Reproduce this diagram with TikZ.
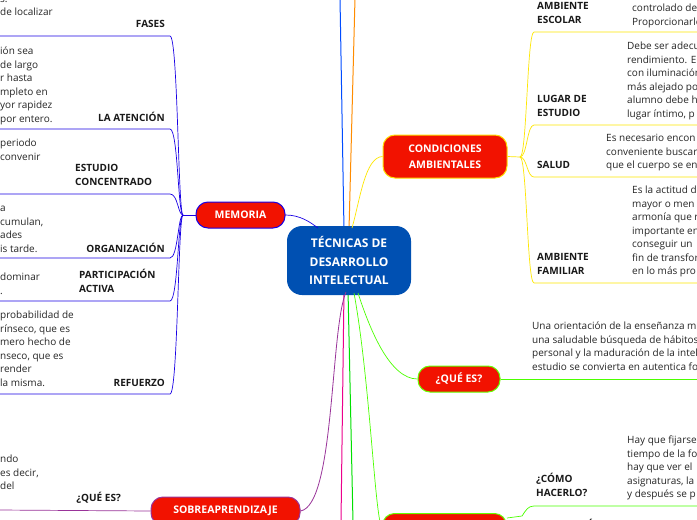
\documentclass[tikz,border=0pt]{standalone}
\usepackage{fontspec}
\setmainfont{Open Sans}
\begin{document}
\begin{tikzpicture}[x=1pt,y=-1pt,
  tx/.style={anchor=mid west,inner sep=0,font=\fontsize{10}{12}\selectfont,text=black!85},
  lb/.style={anchor=mid west,inner sep=0,font=\bfseries\fontsize{10}{12}\selectfont,text=black!90},
  lbr/.style={anchor=mid east,inner sep=0,font=\bfseries\fontsize{10}{12}\selectfont,text=black!90},
  topic/.style={fill=red!85!orange!95!black,rounded corners=12pt,text=white,font=\bfseries\fontsize{10.5}{15.5}\selectfont,align=center,line width=1pt},
  bl/.style={draw=blue!80!violet,line width=0.7pt},
  yl/.style={draw=yellow!90!orange,line width=0.7pt},
  lg/.style={draw=green!70!yellow,line width=0.7pt}]
\useasboundingbox (0,0) rectangle (697,520);
\fill[white] (0,0) rectangle (697,520);
\newcommand{\txl}[4][tx]{\foreach \t [count=\i from 0] in {#4} {\node[#1] at (#2,{#3+13.5*\i}) {\t};}}

% center trunk lines
\draw[blue!70!cyan,line width=1pt] (344,230) -- (340,-2);
\draw[orange!90!yellow,line width=1pt] (349,230) -- (355,-2);
\draw[magenta,line width=1pt] (344,290) -- (341,522);
\draw[green!80!black!60!green,line width=1pt] (348,290) -- (353,522);

% center node
\node[fill=blue!55!cyan!70!black,rounded corners=15pt,minimum width=124pt,minimum height=69pt,text=white,font=\bfseries\fontsize{12}{18.5}\selectfont,align=center,inner sep=2pt] (c) at (349,260.5) {TÉCNICAS DE\\DESARROLLO\\INTELECTUAL};

% MEMORIA
\node[topic,draw=blue!80!violet,minimum width=89pt,minimum height=26pt,inner sep=0] (mem) at (240.5,215) {MEMORIA};
\draw[bl] (mem.east) .. controls (300,215) and (310,222) .. (318,228);
\coordinate (mj) at (183,215);
\draw[bl] (mem.west) -- (mj);
\foreach \y in {36,129,194,258,301,394}{
  \draw[bl] (mj) .. controls (178,215) and (178,\y) .. (170,\y) -- (-2,\y);}
\node[tx] at (0,0) {s.};
\txl{0}{13}{de localizar}
\node[lbr] at (165,25) {FASES};
\txl{0}{52}{ión sea,de largo,r hasta,mpleto en,yor rapidez,por entero.}
\node[lbr] at (165,119) {LA ATENCIÓN};
\txl{0}{144}{periodo,convenir}
\txl[lb]{75}{169}{ESTUDIO,CONCENTRADO}
\txl{0}{209}{a,{cumulan,},ades,is tarde.}
\node[lbr] at (165,250) {ORGANIZACIÓN};
\txl{0}{278}{dominar,.}
\txl[lb]{79}{276}{PARTICIPACIÓN,ACTIVA}
\txl{0}{316}{probabilidad de,{rínseco, que es},mero hecho de,{nseco, que es},render,la misma.}
\node[lbr] at (165,384) {REFUERZO};

% SOBREAPRENDIZAJE
\node[topic,draw=violet!80,minimum width=149pt,minimum height=28pt,inner sep=0] (sob) at (225.5,511) {SOBREAPRENDIZAJE};
\draw[draw=violet!80,line width=0.8pt] (sob.east) .. controls (335,505) and (330,330) .. (346,292);
\draw[draw=violet!80,line width=0.7pt] (sob.west) -- (-2,510);
\txl{0}{460}{ndo,{es decir,},del}
\node[lbr] at (121,499) {¿QUÉ ES?};

% CONDICIONES AMBIENTALES
\node[topic,draw=yellow!80!orange,minimum width=124pt,minimum height=43pt,inner sep=0] (cond) at (445,156.5) {CONDICIONES\\AMBIENTALES};
\draw[yl] (cond.west) .. controls (365,157) and (360,200) .. (352,228);
\coordinate (cj) at (520,157);
\draw[yl] (cond.east) -- (cj);
\foreach \y in {32,125,177,283}{
  \draw[yl] (cj) .. controls (527,157) and (527,\y) .. (534,\y) -- (699,\y);}
\txl[lb]{537}{7}{AMBIENTE,ESCOLAR}
\txl{632}{9}{controlado de,Proporcionarle}
\txl[lb]{537}{100}{LUGAR DE,ESTUDIO}
\txl{627}{47}{Debe ser adecu,rendimiento. El,con iluminación,más alejado po,alumno debe h,{lugar íntimo, p}}
\node[lb] at (537,166) {SALUD};
\txl{606}{139}{Es necesario encon,conveniente buscar,que el cuerpo se en}
\txl[lb]{537}{258}{AMBIENTE,FAMILIAR}
\txl{632}{191}{Es la actitud d,mayor o men,armonía que r,importante en,conseguir un,fin de transfor,en lo más pro}

% QUE ES right
\node[topic,draw=green!60!yellow,minimum width=82pt,minimum height=26pt,inner sep=0] (qe) at (459,379) {¿QUÉ ES?};
\draw[lg] (qe.west) .. controls (390,379) and (370,330) .. (358,293);
\draw[lg] (qe.east) -- (699,379);
\txl{532}{327}{Una orientación de la enseñanza m,una saludable búsqueda de hábitos,personal y la maduración de la intel,estudio se convierta en autentica fo}

% bottom node
\node[topic,draw=green!60!yellow,minimum width=124pt,minimum height=28pt,inner sep=0,anchor=north west] (bot) at (382,513) {};
\draw[lg] (bot.west) .. controls (375,520) and (370,380) .. (354,293);
\coordinate (bj) at (522,516);
\draw[lg] (bot.east |- 0,518) -- (bj) .. controls (526,510) and (528,506) .. (534,506) -- (699,506);
\txl[lb]{536}{480}{¿CÓMO,HACERLO?}
\txl{627}{441}{Hay que fijarse,tiempo de la fo,hay que ver el,{asignaturas, la},y después se p}
\node[lb] at (538,526) {¿PARA QUÉ};
\end{tikzpicture}
\end{document}
